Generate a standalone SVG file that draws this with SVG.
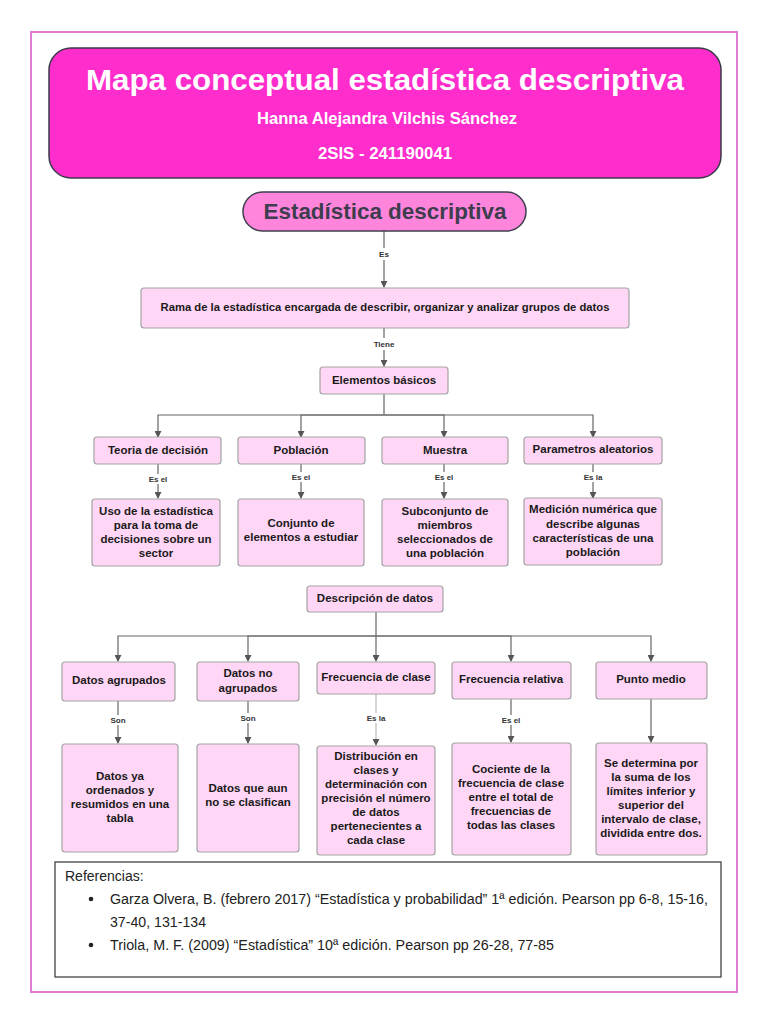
<svg xmlns="http://www.w3.org/2000/svg" width="768" height="1024" viewBox="0 0 768 1024">
<defs>
<marker id="ah" viewBox="0 0 8 8" refX="7" refY="4" markerWidth="7" markerHeight="7" markerUnits="userSpaceOnUse" orient="auto">
<path d="M0,0 L8,4 L0,8 z" fill="#555"/>
</marker>
</defs>
<style>
.box{fill:#ffd6f5;stroke:#a3a3a3;stroke-width:1.2}
.t{font-family:"Liberation Sans",Arial,sans-serif;font-weight:bold;font-size:11.5px;fill:#1a1a1a;text-anchor:middle}
.lbl{font-family:"Liberation Sans",Arial,sans-serif;font-weight:bold;font-size:8px;fill:#333;text-anchor:middle}
.c{fill:none;stroke:#666;stroke-width:1.2}
.ca{fill:none;stroke:#666;stroke-width:1.2;marker-end:url(#ah)}
.ref{font-family:"Liberation Sans",Arial,sans-serif;font-size:14px;fill:#222}
</style>
<rect x="0" y="0" width="768" height="1024" fill="#ffffff"/>
<rect x="31" y="32" width="706" height="960" fill="none" stroke="#e07cd6" stroke-width="2"/>

<g id="header">
<rect x="49" y="48" width="672" height="130" rx="22" fill="#ff2dcc" stroke="#3b3b4a" stroke-width="1.5"/>
<text x="385" y="90" font-family="Liberation Sans,Arial,sans-serif" font-weight="bold" font-size="30" fill="#fff" text-anchor="middle" textLength="598" lengthAdjust="spacingAndGlyphs">Mapa conceptual estadística descriptiva</text>
<text x="387" y="124" font-family="Liberation Sans,Arial,sans-serif" font-weight="bold" font-size="16" fill="#fff" text-anchor="middle" textLength="260" lengthAdjust="spacingAndGlyphs">Hanna Alejandra Vilchis Sánchez</text>
<text x="385" y="159" font-family="Liberation Sans,Arial,sans-serif" font-weight="bold" font-size="16" fill="#fff" text-anchor="middle" textLength="134" lengthAdjust="spacingAndGlyphs">2SIS - 241190041</text>
</g>

<g id="connectors">
<line class="ca" x1="384" y1="231" x2="384" y2="287"/>
<rect x="376" y="248" width="16" height="12" fill="#fff"/>
<text class="lbl" x="384" y="257" font-size="9">Es</text>
<line class="ca" x1="384" y1="328" x2="384" y2="366"/>
<rect x="371" y="338" width="26" height="12" fill="#fff"/>
<text class="lbl" x="384" y="347" font-size="9">Tiene</text>

<path class="c" d="M384,394 V415"/>
<path class="ca" d="M384,415 H158 V437"/>
<path class="ca" d="M384,415 H301 V437"/>
<path class="ca" d="M384,415 H444 V437"/>
<path class="ca" d="M384,415 H593 V437"/>

<line class="ca" x1="158" y1="464" x2="158" y2="498"/>
<line class="ca" x1="301" y1="464" x2="301" y2="498"/>
<line class="ca" x1="444" y1="464" x2="444" y2="498"/>
<line class="ca" x1="593" y1="464" x2="593" y2="498"/>
<rect x="146" y="474" width="24" height="10" fill="#fff"/>
<text class="lbl" x="158" y="482">Es el</text>
<rect x="289" y="472" width="24" height="10" fill="#fff"/>
<text class="lbl" x="301" y="480">Es el</text>
<rect x="432" y="472" width="24" height="10" fill="#fff"/>
<text class="lbl" x="444" y="480">Es el</text>
<rect x="581" y="472" width="24" height="10" fill="#fff"/>
<text class="lbl" x="593" y="480">Es la</text>

<path class="c" d="M376,612 V636"/>
<path class="ca" d="M376,636 H118 V661"/>
<path class="ca" d="M376,636 H248 V661"/>
<path class="ca" d="M376,636 V661"/>
<path class="ca" d="M376,636 H511 V661"/>
<path class="ca" d="M376,636 H651 V661"/>

<line class="ca" x1="118" y1="701" x2="118" y2="743"/>
<line class="ca" x1="248" y1="701" x2="248" y2="743"/>
<line class="ca" x1="376" y1="694" x2="376" y2="745" style="stroke:#bbb"/>
<line class="ca" x1="511" y1="699" x2="511" y2="742"/>
<line class="ca" x1="651" y1="699" x2="651" y2="742"/>
<rect x="108" y="715" width="20" height="10" fill="#fff"/>
<text class="lbl" x="118" y="723">Son</text>
<rect x="238" y="713" width="20" height="10" fill="#fff"/>
<text class="lbl" x="248" y="721">Son</text>
<rect x="364" y="713" width="24" height="10" fill="#fff"/>
<text class="lbl" x="376" y="721">Es la</text>
<rect x="499" y="715" width="24" height="10" fill="#fff"/>
<text class="lbl" x="511" y="723">Es el</text>
</g>

<g id="n-estadistica">
<rect x="243" y="192" width="283" height="39" rx="19.5" fill="#ff85dc" stroke="#3f3f4f" stroke-width="1.5"/>
<text x="385" y="219" font-family="Liberation Sans,Arial,sans-serif" font-weight="bold" font-size="22" fill="#3d3d4d" text-anchor="middle" textLength="243" lengthAdjust="spacingAndGlyphs">Estadística descriptiva</text>
</g>

<g id="n-rama">
<rect class="box" x="141" y="288" width="488" height="40" rx="3"/>
<text class="t" x="385" y="311" font-size="11" textLength="449" lengthAdjust="spacingAndGlyphs">Rama de la estadística encargada de describir, organizar y analizar grupos de datos</text>
</g>

<g id="n-elementos">
<rect class="box" x="320" y="367" width="128" height="27" rx="3"/>
<text class="t" x="384" y="384" font-size="11">Elementos básicos</text>
</g>

<g id="n-teoria">
<rect class="box" x="94" y="437" width="127" height="27" rx="3"/>
<text class="t" x="158" y="454" font-size="11">Teoria de decisión</text>
</g>
<g id="n-poblacion">
<rect class="box" x="238" y="437" width="127" height="27" rx="3"/>
<text class="t" x="301" y="454" font-size="11">Población</text>
</g>
<g id="n-muestra">
<rect class="box" x="382" y="437" width="126" height="27" rx="3"/>
<text class="t" x="445" y="454" font-size="11">Muestra</text>
</g>
<g id="n-parametros">
<rect class="box" x="524" y="437" width="138" height="27" rx="3"/>
<text class="t" x="593" y="453" font-size="11">Parametros aleatorios</text>
</g>

<g id="n-uso">
<rect class="box" x="92" y="499" width="128" height="67" rx="3"/>
<text class="t" x="156" y="515">Uso de la estadística</text>
<text class="t" x="156" y="529">para la toma de</text>
<text class="t" x="156" y="543">decisiones sobre un</text>
<text class="t" x="156" y="557">sector</text>
</g>
<g id="n-conjunto">
<rect class="box" x="238" y="499" width="126" height="67" rx="3"/>
<text class="t" x="301" y="527">Conjunto de</text>
<text class="t" x="301" y="541">elementos a estudiar</text>
</g>
<g id="n-subconjunto">
<rect class="box" x="382" y="499" width="126" height="67" rx="3"/>
<text class="t" x="445" y="515">Subconjunto de</text>
<text class="t" x="445" y="529">miembros</text>
<text class="t" x="445" y="543">seleccionados de</text>
<text class="t" x="445" y="557">una población</text>
</g>
<g id="n-medicion">
<rect class="box" x="524" y="498" width="138" height="67" rx="3"/>
<text class="t" x="593" y="513">Medición numérica que</text>
<text class="t" x="593" y="528">describe algunas</text>
<text class="t" x="593" y="542">características de una</text>
<text class="t" x="593" y="556">población</text>
</g>

<g id="n-descripcion">
<rect class="box" x="307" y="586" width="136" height="26" rx="3"/>
<text class="t" x="375" y="602" font-size="11">Descripción de datos</text>
</g>

<g id="n-agrupados">
<rect class="box" x="62" y="662" width="113" height="39" rx="3"/>
<text class="t" x="119" y="684" font-size="11">Datos agrupados</text>
</g>
<g id="n-noagrupados">
<rect class="box" x="197" y="662" width="102" height="39" rx="3"/>
<text class="t" x="248" y="677" font-size="11">Datos no</text>
<text class="t" x="248" y="692" font-size="11">agrupados</text>
</g>
<g id="n-frecclase">
<rect class="box" x="317" y="662" width="118" height="32" rx="3"/>
<text class="t" x="376" y="681" font-size="11">Frecuencia de clase</text>
</g>
<g id="n-frecrel">
<rect class="box" x="452" y="662" width="119" height="37" rx="3"/>
<text class="t" x="511" y="683" font-size="11">Frecuencia relativa</text>
</g>
<g id="n-punto">
<rect class="box" x="596" y="662" width="111" height="37" rx="3"/>
<text class="t" x="651" y="683" font-size="11">Punto medio</text>
</g>

<g id="n-datosya">
<rect class="box" x="62" y="744" width="116" height="108" rx="3"/>
<text class="t" x="120" y="780">Datos ya</text>
<text class="t" x="120" y="794">ordenados y</text>
<text class="t" x="120" y="808">resumidos en una</text>
<text class="t" x="120" y="822">tabla</text>
</g>
<g id="n-datosaun">
<rect class="box" x="197" y="744" width="102" height="108" rx="3"/>
<text class="t" x="248" y="792">Datos que aun</text>
<text class="t" x="248" y="806">no se clasifican</text>
</g>
<g id="n-distribucion">
<rect class="box" x="317" y="746" width="118" height="109" rx="3"/>
<text class="t" x="376" y="760">Distribución en</text>
<text class="t" x="376" y="774">clases y</text>
<text class="t" x="376" y="788">determinación con</text>
<text class="t" x="376" y="802">precisión el número</text>
<text class="t" x="376" y="816">de datos</text>
<text class="t" x="376" y="830">pertenecientes a</text>
<text class="t" x="376" y="844">cada clase</text>
</g>
<g id="n-cociente">
<rect class="box" x="452" y="743" width="119" height="112" rx="3"/>
<text class="t" x="511" y="773">Cociente de la</text>
<text class="t" x="511" y="787">frecuencia de clase</text>
<text class="t" x="511" y="801">entre el total de</text>
<text class="t" x="511" y="815">frecuencias de</text>
<text class="t" x="511" y="829">todas las clases</text>
</g>
<g id="n-determina">
<rect class="box" x="596" y="743" width="111" height="112" rx="3"/>
<text class="t" x="651" y="767">Se determina por</text>
<text class="t" x="651" y="781">la suma de los</text>
<text class="t" x="651" y="795">límites inferior y</text>
<text class="t" x="651" y="809">superior del</text>
<text class="t" x="651" y="823">intervalo de clase,</text>
<text class="t" x="651" y="837">dividida entre dos.</text>
</g>

<g id="referencias">
<rect x="55" y="862" width="666" height="115" fill="#fff" stroke="#333" stroke-width="1.2"/>
<text class="ref" x="65" y="881">Referencias:</text>
<circle cx="91" cy="899" r="2.3" fill="#222"/>
<text class="ref" x="110" y="904" textLength="598" lengthAdjust="spacingAndGlyphs">Garza Olvera, B. (febrero 2017) “Estadística y probabilidad” 1ª edición. Pearson pp 6-8, 15-16,</text>
<text class="ref" x="110" y="927" textLength="96" lengthAdjust="spacingAndGlyphs">37-40, 131-134</text>
<circle cx="91" cy="945" r="2.3" fill="#222"/>
<text class="ref" x="110" y="950" textLength="444" lengthAdjust="spacingAndGlyphs">Triola, M. F. (2009) “Estadística” 10ª edición. Pearson pp 26-28, 77-85</text>
</g>
</svg>
